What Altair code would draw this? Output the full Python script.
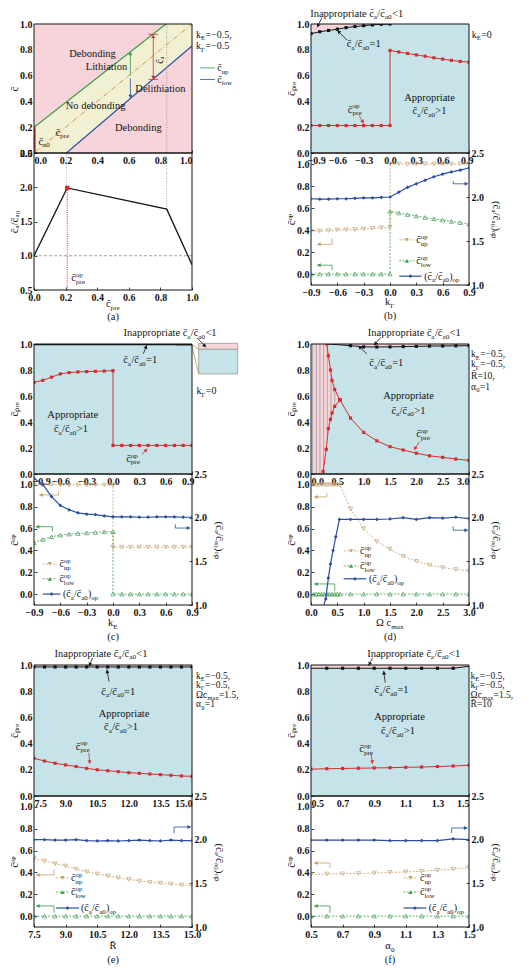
import math
import altair as alt
import pandas as pd

FONT = "Liberation Serif"
RED = "#D22E2E"; BLK = "#141414"; TAN = "#C4A06A"; GRN = "#3D9A4E"; BLU = "#2B4EA0"
BGB = "#C6E3EA"; PNK = "#F6D4D9"; YEL = "#F2F0D3"; GRY = "#8C8C8C"; ORG = "#D8924A"
W = 158

# ---------------- data ----------------
# (a)
a_up_x = [0.0, 0.835]; a_up_y = [0.2, 1.0]
a_low_x = [0.205, 1.0]; a_low_y = [0.0, 0.83]
a_diag_x = [0.0, 1.0]; a_diag_y = [0.0, 1.0]
a_band_x = [0.0, 0.205, 0.835, 1.0]
a_band_hi = [0.2, 0.396, 1.0, 1.0]
a_band_lo = [0.0, 0.0, 0.658, 0.83]
a_ratio_x = [0.0, 0.21, 0.84, 1.0]
a_ratio_y = [1.0, 1.99, 1.68, 0.87]
a_opt_x = [0.21]; a_opt_y = [1.99]

# (b), (c): k values
k_left = [-0.9, -0.8, -0.7, -0.6, -0.5, -0.4, -0.3, -0.2, -0.1, 0.0]
k_right = [0.0, 0.1, 0.2, 0.3, 0.4, 0.5, 0.6, 0.7, 0.8, 0.9]
k_all = k_left + k_right[1:]

b_black_y = [0.925, 0.94, 0.95, 0.96, 0.972, 0.98, 0.987, 0.993, 0.998, 1.0]
b_red_y = [0.213] * 10 + [0.795, 0.783, 0.772, 0.76, 0.75, 0.738, 0.728, 0.718, 0.71, 0.705]
b_up_y = [0.39, 0.39, 0.395, 0.40, 0.402, 0.405, 0.41, 0.415, 0.42, 0.425] + [1.0] * 10
b_low_y = [0.0] * 10 + [0.57, 0.555, 0.54, 0.527, 0.514, 0.502, 0.49, 0.478, 0.467, 0.455]
b_ratio_y = [1.98, 1.975, 1.975, 1.98, 1.98, 1.985, 1.99, 1.99, 1.995, 2.0,
             2.055, 2.11, 2.15, 2.19, 2.23, 2.26, 2.285, 2.305, 2.33]

c_black_x = [-0.9, 0.9]; c_black_y = [0.996, 0.996]
c_red_y = [0.705, 0.72, 0.745, 0.77, 0.78, 0.785, 0.788, 0.79, 0.792, 0.795] + [0.22] * 10
c_up_y = [1.0] * 10 + [0.43] * 10
c_low_y = [0.47, 0.50, 0.525, 0.54, 0.55, 0.555, 0.56, 0.565, 0.57, 0.57] + [0.0] * 10
c_ratio_y = [2.45, 2.38, 2.24, 2.14, 2.09, 2.055, 2.04, 2.035, 2.02, 2.01,
             2.01, 2.01, 2.005, 2.005, 2.01, 2.01, 2.01, 2.005, 2.005]

# (d)
d_red_up_x = [0.30, 0.33, 0.37, 0.40, 0.45, 0.55]
d_red_up_y = [1.0, 0.91, 0.80, 0.72, 0.65, 0.57]
d_red_low_x = [0.23, 0.29, 0.33, 0.37, 0.40, 0.45, 0.55]
d_red_low_y = [0.02, 0.19, 0.35, 0.42, 0.47, 0.52, 0.57]
d_red_tail_x = [0.55, 0.75, 1.0, 1.25, 1.5, 1.75, 2.0, 2.25, 2.5, 2.75, 3.0]
d_red_tail_y = [0.57, 0.43, 0.32, 0.255, 0.21, 0.185, 0.16, 0.14, 0.128, 0.115, 0.105]
d_black_x = [0.3, 0.5, 0.75, 1.0, 1.25, 1.5, 1.75, 2.0, 2.25, 2.5, 2.75, 3.0]
d_black_y = [1.0, 0.995, 0.987, 0.978, 0.977, 0.978, 0.98, 0.982, 0.984, 0.985, 0.986, 0.987]
d_hatch_x = [0.03, 0.1, 0.17, 0.24, 0.31, 0.38, 0.45, 0.52]
d_x = [0.05, 0.1, 0.15, 0.2, 0.25, 0.3, 0.35, 0.4, 0.45, 0.5, 0.55,
       0.75, 1.0, 1.25, 1.5, 1.75, 2.0, 2.25, 2.5, 2.75, 3.0]
d_up_y = [1.0] * 11 + [0.78, 0.60, 0.48, 0.41, 0.345, 0.30, 0.265, 0.243, 0.225, 0.21]
d_low_y = [0.0] * 21
d_ratio_x = [0.20, 0.28, 0.33, 0.37, 0.42, 0.47, 0.54, 0.75, 1.0, 1.25, 1.5, 1.75,
             2.0, 2.25, 2.5, 2.75, 3.0]
d_ratio_y = [0.92, 1.07, 1.31, 1.47, 1.625, 1.78, 1.98, 1.98, 1.98, 1.98, 1.985, 2.0,
             1.98, 2.0, 1.995, 2.005, 1.99]

# (e)
e_x = [7.5, 8.0, 8.5, 9.0, 9.5, 10.0, 10.5, 11.0, 11.5, 12.0, 12.5, 13.0, 13.5, 14.0, 14.5, 15.0]
e_red = [0.288, 0.267, 0.25, 0.237, 0.225, 0.211, 0.2, 0.193, 0.186, 0.178, 0.173, 0.168,
         0.163, 0.158, 0.153, 0.15]
e_black = [0.985] * 16
e_up = [0.53, 0.505, 0.48, 0.458, 0.43, 0.406, 0.385, 0.367, 0.35, 0.336, 0.322, 0.31,
        0.302, 0.294, 0.285, 0.28]
e_low = [0.0] * 16
e_ratio = [2.0, 2.0, 1.995, 1.995, 2.0, 1.99, 1.985, 1.99, 1.985, 1.99, 1.995, 1.99,
           1.985, 1.995, 1.99, 1.99]

# (f)
f_x = [0.5, 0.6, 0.7, 0.8, 0.9, 1.0, 1.1, 1.2, 1.3, 1.4, 1.5]
f_red = [0.205, 0.208, 0.21, 0.212, 0.214, 0.216, 0.219, 0.221, 0.225, 0.229, 0.235]
f_black = [0.975] * 10 + [0.99]
f_up = [0.38, 0.385, 0.388, 0.39, 0.395, 0.40, 0.405, 0.41, 0.42, 0.43, 0.445]
f_low = [0.0] * 11
f_ratio = [1.995, 1.995, 1.995, 1.995, 1.995, 1.99, 1.99, 1.99, 1.99, 2.01, 2.0]

# tick values
t01 = [0.0, 0.2, 0.4, 0.6, 0.8, 1.0]
t_k = [-0.9, -0.6, -0.3, 0.0, 0.3, 0.6, 0.9]
t_om = [0.0, 0.5, 1.0, 1.5, 2.0, 2.5, 3.0]
t_R = [7.5, 9.0, 10.5, 12.0, 13.5, 15.0]
t_al = [0.5, 0.7, 0.9, 1.1, 1.3, 1.5]
t_r = [1.0, 1.5, 2.0, 2.5]
t_a = [0.5, 1.0, 1.5, 2.0, 2.5]

# ---------------- helpers ----------------
CW = {c: 0.5 for c in "0123456789"}
CW.update({"a": 0.44, "b": 0.5, "c": 0.44, "d": 0.5, "e": 0.44, "f": 0.33, "g": 0.5, "h": 0.5,
           "i": 0.28, "j": 0.28, "k": 0.5, "l": 0.28, "m": 0.78, "n": 0.5, "o": 0.5, "p": 0.5,
           "q": 0.5, "r": 0.33, "s": 0.39, "t": 0.28, "u": 0.5, "v": 0.5, "w": 0.72, "x": 0.5,
           "y": 0.5, "z": 0.44, "A": 0.72, "I": 0.33, "R": 0.67, "E": 0.61, "D": 0.72, "N": 0.72,
           "\u0393": 0.6, "\u03a9": 0.77, "\u03b1": 0.55, "=": 0.56, "<": 0.56, ">": 0.56,
           "\u2212": 0.56, ",": 0.25, ".": 0.25, "/": 0.28, "(": 0.33, ")": 0.33, " ": 0.25,
           "\u0304": 0.0})


def tw(s, fs):
    return sum(CW.get(c, 0.5) for c in s) * fs


def fr_(xd, yd, h, yr=None):
    return {"xd": xd, "yd": yd, "h": h, "w": W, "yr": yr}


def pdx(fr, px):
    return px * (fr["xd"][1] - fr["xd"][0]) / fr["w"]


def pdy(fr, px):
    return -px * (fr["yd"][1] - fr["yd"][0]) / fr["h"]


def topx(fr, x, y):
    return ((x - fr["xd"][0]) / (fr["xd"][1] - fr["xd"][0]) * fr["w"],
            (fr["yd"][1] - y) / (fr["yd"][1] - fr["yd"][0]) * fr["h"])


_seq = [0]


def ann():
    return {"text": [], "seg": [], "head": []}


def rich(A, fr, x, y, parts, fs=10.5, align="center", color=BLK, oy=0.0):
    sfs = fs * 0.68
    ws = []
    for k, t in parts:
        if k == "n":
            ws.append(tw(t, fs))
        elif k in ("b", "p"):
            ws.append(tw(t, sfs) + 0.4)
        else:
            ws.append(max(tw(t[0], sfs), tw(t[1], sfs)) + 0.4)
    tot = sum(ws)
    cur = {"center": -tot / 2, "left": 0.0, "right": -tot}[align]
    base = 0.33 * fs + oy

    def add(t, s, ox, o):
        A["text"].append({"x": x + pdx(fr, ox), "y": y + pdy(fr, o), "t": t, "fs": s, "c": color})

    for (k, t), w in zip(parts, ws):
        if k == "n":
            add(t, fs, cur, base)
        elif k == "b":
            add(t, sfs, cur, base + 0.25 * fs)
        elif k == "p":
            add(t, sfs, cur, base - 0.4 * fs)
        else:
            add(t[0], sfs, cur, base - 0.4 * fs)
            add(t[1], sfs, cur, base + 0.25 * fs)
        cur += w


def path(A, fr, pts, color=BLK, head=True):
    _seq[0] += 1
    i = _seq[0]
    for o, (x, y) in enumerate(pts):
        A["seg"].append({"x": x, "y": y, "id": i, "o": o, "c": color})
    if head:
        (x1, y1), (x2, y2) = pts[-2], pts[-1]
        X1, Y1 = topx(fr, x1, y1)
        X2, Y2 = topx(fr, x2, y2)
        vx, vy = X2 - X1, Y2 - Y1
        L = math.hypot(vx, vy) or 1.0
        ux, uy = vx / L, vy / L
        ang = math.degrees(math.atan2(vx, -vy)) % 360
        A["head"].append({"x": x2 - pdx(fr, 1.8 * ux), "y": y2 - pdy(fr, 1.8 * uy), "a": ang, "c": color})


def XY(fr, xax, yax, right=False):
    yd = fr["yr"] if right else fr["yd"]
    return {"x": alt.X("x:Q", scale=alt.Scale(domain=list(fr["xd"]), nice=False, zero=False), axis=xax),
            "y": alt.Y("y:Q", scale=alt.Scale(domain=list(yd), nice=False, zero=False), axis=yax)}


def ax_x(vals, flush, offset=0):
    return alt.Axis(values=vals, format=".1f", title="", labelFlush=flush, labelFlushOffset=offset,
                    labelOverlap=False)


def ax_y(vals, title, orient="left"):
    if orient == "right":
        return alt.Axis(values=vals, format=".1f", title=title, orient=orient, labelOverlap=False,
                        titlePadding=7)
    return alt.Axis(values=vals, format=".1f", title=title, orient=orient, labelOverlap=False)


def line(fr, xa, ya, xs, ys, color, lw=1.0, dash=None, clip=True, right=False, ids=None):
    df = pd.DataFrame({"x": xs, "y": ys, "o": list(range(len(xs))),
                       "id": ids if ids is not None else [0] * len(xs)})
    kw = dict(color=color, strokeWidth=lw, clip=clip)
    if dash:
        kw["strokeDash"] = dash
    return alt.Chart(df).mark_line(**kw).encode(**XY(fr, xa, ya, right), order="o:Q", detail="id:N")


def pts(fr, xa, ya, xs, ys, color, shape, size, filled=True, clip=True, right=False):
    df = pd.DataFrame({"x": xs, "y": ys})
    kw = dict(color=color, shape=shape, size=size, filled=filled, clip=clip, opacity=1)
    if not filled:
        kw["strokeWidth"] = 0.7
    return alt.Chart(df).mark_point(**kw).encode(**XY(fr, xa, ya, right))


def rect(fr, xa, ya, x, x2, y, y2, color, clip=True, stroke=None):
    df = pd.DataFrame({"x": [x], "x2": [x2], "y": [y], "y2": [y2]})
    kw = dict(color=color, clip=clip)
    if stroke:
        kw.update(stroke=stroke, strokeWidth=0.8)
    return alt.Chart(df).mark_rect(**kw).encode(**XY(fr, xa, ya), x2="x2:Q", y2="y2:Q")


def area(fr, xa, ya, xs, ys, y2s, color):
    df = pd.DataFrame({"x": xs, "y": ys, "y2": y2s})
    return alt.Chart(df).mark_area(color=color, opacity=1, clip=True).encode(**XY(fr, xa, ya), y2="y2:Q")


def frame(fr, xa, ya):
    df = pd.DataFrame({"x": [fr["xd"][0]], "x2": [fr["xd"][1]], "y": [fr["yd"][0]], "y2": [fr["yd"][1]]})
    return alt.Chart(df).mark_rect(fillOpacity=0, stroke=BLK, strokeWidth=1, clip=False).encode(
        **XY(fr, xa, ya), x2="x2:Q", y2="y2:Q")


def ann_layers(fr, A, xa, ya):
    L = []
    if A["seg"]:
        L.append(alt.Chart(pd.DataFrame(A["seg"])).mark_line(clip=False, strokeWidth=0.8).encode(
            **XY(fr, xa, ya), detail="id:N", order="o:Q", color=alt.Color("c:N", scale=None)))
    if A["head"]:
        L.append(alt.Chart(pd.DataFrame(A["head"])).mark_point(
            clip=False, filled=True, shape="triangle-up", size=16, opacity=1).encode(
            **XY(fr, xa, ya), angle=alt.Angle("a:Q", scale=None), color=alt.Color("c:N", scale=None)))
    if A["text"]:
        L.append(alt.Chart(pd.DataFrame(A["text"])).mark_text(
            clip=False, align="left", baseline="alphabetic", font=FONT).encode(
            **XY(fr, xa, ya), text="t:N", size=alt.Size("fs:Q", scale=None),
            color=alt.Color("c:N", scale=None)))
    return L


CB = "c\u0304"
RATIO = [("n", CB), ("b", "a"), ("n", "/" + CB), ("b", "a0")]
CPRE_OP = [("n", CB), ("pb", ("op", "pre"))]
CUP = [("n", CB), ("pb", ("op", "up"))]
CLOW = [("n", CB), ("pb", ("op", "low"))]
CRAT_OP = [("n", "(" + CB), ("b", "a"), ("n", "/" + CB), ("b", "a0"), ("n", ")"), ("b", "op")]
INAP = [("n", "Inappropriate " + CB), ("b", "a"), ("n", "/" + CB), ("b", "a0"), ("n", "<1")]


def KE(v):
    return [("n", "k"), ("b", "E"), ("n", "=" + v)]


def KG(v):
    return [("n", "k"), ("b", "\u0393"), ("n", "=" + v)]


OMEGA = [("n", "\u03a9c"), ("b", "max"), ("n", "=1.5,")]
ALPHA = [("n", "\u03b1"), ("b", "0"), ("n", "=1")]

Y_TOP = "c\u0304\u209a\u1d63\u2091"
Y_OP = "c\u0304\u1d52\u1d56"
Y_R = "(c\u0304\u2090/c\u0304\u2090\u2080)\u2092\u209a"


def common_top(fr, xa, ya, A, texts_appr, pos_eq, arr_eq, pos_inap, arr_inap, pos_op, arr_op):
    rich(A, fr, pos_inap[0], pos_inap[1], INAP)
    path(A, fr, arr_inap)
    rich(A, fr, pos_eq[0], pos_eq[1], RATIO + [("n", "=1")])
    path(A, fr, arr_eq)
    rich(A, fr, texts_appr[0][0], texts_appr[0][1], [("n", "Appropriate")])
    rich(A, fr, texts_appr[1][0], texts_appr[1][1], RATIO + [("n", ">1")])
    rich(A, fr, pos_op[0], pos_op[1], CPRE_OP)
    path(A, fr, arr_op, RED)


def right_notes(A, fr, x, ys, items, fs=9.5):
    for y, it in zip(ys, items):
        rich(A, fr, x, y, it, fs=fs, align="left")


def bottom_panel(fr, xvals, ux, uy, lx, ly, rx, ry, leg, arrows, xtitle, cap, oy):
    xa = ax_x(xvals, False)
    yl = ax_y(t01, Y_OP)
    yr = ax_y(t_r, Y_R, "right")
    A = ann()
    left = [line(fr, xa, yl, ux, uy, TAN, 0.8, dash=[2, 1.5]),
            pts(fr, xa, yl, ux, uy, TAN, "triangle-down", 18, filled=False),
            line(fr, xa, yl, lx, ly, GRN, 0.8, dash=[2, 1.5]),
            pts(fr, xa, yl, lx, ly, GRN, "triangle-up", 18, filled=False)]
    x0, x1, xt, ys, bx1, bxt = leg
    xm = (x0 + x1) / 2
    left += [line(fr, xa, yl, [x0, x1], [ys[0]] * 2, TAN, 0.8, dash=[2, 1.5], clip=False),
             pts(fr, xa, yl, [xm], [ys[0]], TAN, "triangle-down", 18, clip=False),
             line(fr, xa, yl, [x0, x1], [ys[1]] * 2, GRN, 0.8, dash=[2, 1.5], clip=False),
             pts(fr, xa, yl, [xm], [ys[1]], GRN, "triangle-up", 18, clip=False),
             line(fr, xa, yl, [x0, bx1], [ys[2]] * 2, BLU, 1.2, clip=False),
             pts(fr, xa, yl, [(x0 + bx1) / 2], [ys[2]], BLU, "diamond", 14, clip=False)]
    rich(A, fr, xt, ys[0], CUP, fs=10, align="left")
    rich(A, fr, xt, ys[1], CLOW, fs=10, align="left")
    rich(A, fr, bxt, ys[2], CRAT_OP, fs=10, align="left")
    for pth, col in arrows:
        path(A, fr, pth, col)
    xc = (fr["xd"][0] + fr["xd"][1]) / 2
    rich(A, fr, xc, fr["yd"][0], xtitle, fs=10.5, oy=oy[0])
    rich(A, fr, xc, fr["yd"][0], [("n", cap)], fs=10.5, oy=oy[1])
    left += ann_layers(fr, A, xa, yl)
    left.append(frame(fr, xa, yl))
    right = [line(fr, xa, yr, rx, ry, BLU, 1.2, right=True),
             pts(fr, xa, yr, rx, ry, BLU, "diamond", 14, right=True)]
    return alt.layer(alt.layer(*left), alt.layer(*right)).resolve_scale(y="independent").properties(
        width=W, height=fr["h"])


# ---------------- panel (a) ----------------
F = fr_([0, 1], [0, 1], 129)
xa = ax_x(t01, True); ya = ax_y(t01, "c\u0304")
A = ann()
path(A, F, [(0.755, 0.745), (0.755, 0.918)], RED)
path(A, F, [(0.755, 0.745), (0.755, 0.572)], RED)
path(A, F, [(0.725, 0.92), (0.785, 0.92)], RED, head=False)
path(A, F, [(0.725, 0.57), (0.785, 0.57)], RED, head=False)
path(A, F, [(0.61, 0.6), (0.61, 0.785)], GRN)
path(A, F, [(0.61, 0.58), (0.61, 0.425)], BLU)
rich(A, F, 0.37, 0.77, [("n", "Debonding")])
rich(A, F, 0.455, 0.668, [("n", "Lithiation")])
rich(A, F, 0.80, 0.50, [("n", "Delithiation")])
rich(A, F, 0.39, 0.37, [("n", "No debonding")])
rich(A, F, 0.66, 0.20, [("n", "Debonding")])
rich(A, F, 0.18, 0.16, [("n", CB), ("b", "pre")])
rich(A, F, 0.065, 0.09, [("n", CB), ("b", "a0")])
right_notes(A, F, 1.025, [0.92, 0.83], [KE("\u22120.5,"), KG("\u22120.5")], fs=10)
path(A, F, [(1.05, 0.66), (1.145, 0.66)], GRN, head=False)
path(A, F, [(1.05, 0.57), (1.145, 0.57)], BLU, head=False)
rich(A, F, 1.16, 0.66, [("n", CB), ("b", "up")], fs=10, align="left")
rich(A, F, 1.16, 0.57, [("n", CB), ("b", "low")], fs=10, align="left")
rot = alt.Chart(pd.DataFrame({"x": [0.80], "y": [0.72], "t": ["c\u0304\u2090"]})).mark_text(
    angle=270, font=FONT, fontSize=10, color=BLK, clip=False).encode(**XY(F, xa, ya), text="t:N")
a_top = alt.layer(
    rect(F, xa, ya, 0, 1, 0, 1, PNK),
    area(F, xa, ya, a_band_x, a_band_hi, a_band_lo, YEL),
    line(F, xa, ya, a_diag_x, a_diag_y, ORG, 1.0, dash=[5, 2, 1, 2]),
    line(F, xa, ya, a_up_x, a_up_y, GRN, 1.2),
    line(F, xa, ya, a_low_x, a_low_y, BLU, 1.2),
    line(F, xa, ya, [0.84, 0.84], [0.0, 1.0], GRY, 0.8, dash=[1, 1.5]),
    line(F, xa, ya, [0.004, 0.004], [0.0, 0.2], RED, 2.0),
    *ann_layers(F, A, xa, ya), rot, frame(F, xa, ya)
).properties(width=W, height=F["h"])

F = fr_([0, 1], [0.5, 2.5], 137)
xa = ax_x(t01, False); ya = ax_y(t_a, "c\u0304\u2090/c\u0304\u2090\u2080")
A = ann()
rich(A, F, 0.235, 0.68, CPRE_OP, align="left")
rich(A, F, 0.5, 0.5, [("n", CB), ("b", "pre")], oy=14)
rich(A, F, 0.5, 0.5, [("n", "(a)")], oy=27)
a_bot = alt.layer(
    line(F, xa, ya, [0.0, 1.0], [1.0, 1.0], "#777777", 0.7, dash=[3, 2]),
    line(F, xa, ya, [0.205, 0.205], [1.99, 2.5], "#8899AA", 0.8, dash=[1, 1.5]),
    line(F, xa, ya, [0.84, 0.84], [1.68, 2.5], GRY, 0.8, dash=[1, 1.5]),
    line(F, xa, ya, [0.21, 0.21], [0.5, 1.99], RED, 1.0, dash=[1, 1.2]),
    line(F, xa, ya, a_ratio_x, a_ratio_y, BLK, 1.3),
    pts(F, xa, ya, a_opt_x, a_opt_y, RED, "square", 20),
    *ann_layers(F, A, xa, ya), frame(F, xa, ya)
).properties(width=W, height=F["h"])

# ---------------- panel (b) ----------------
F = fr_([-0.9, 0.9], [0, 1], 129)
xa = ax_x(t_k, True, 4); ya = ax_y(t01, Y_TOP)
A = ann()
common_top(F, xa, ya, A, [(0.45, 0.43), (0.45, 0.33)], (-0.3, 0.845),
           [(-0.49, 0.875), (-0.6, 0.95)], (-0.38, 1.085), [(-0.775, 1.05), (-0.83, 0.975)],
           (-0.40, 0.34), [(-0.35, 0.29), (-0.3, 0.23)])
right_notes(A, F, 0.93, [0.92], [KE("0")], fs=10)
b_top = alt.layer(
    rect(F, xa, ya, -0.9, 0.9, 0, 1, BGB),
    area(F, xa, ya, k_left, b_black_y, [1.0] * 10, PNK),
    line(F, xa, ya, k_left, b_black_y, BLK, 1.0),
    pts(F, xa, ya, k_left, b_black_y, BLK, "square", 10),
    line(F, xa, ya, k_left + k_right, b_red_y, RED, 1.0),
    pts(F, xa, ya, k_left + k_right, b_red_y, RED, "square", 10),
    *ann_layers(F, A, xa, ya), frame(F, xa, ya)
).properties(width=W, height=F["h"])

F = fr_([-0.9, 0.9], [-0.1, 1.1], 132, yr=[1.0, 2.5])
b_bot = bottom_panel(
    F, t_k, k_left + k_right, b_up_y, k_left + k_right, b_low_y, k_all, b_ratio_y,
    (0.105, 0.28, 0.30, [0.31, 0.12, -0.02], 0.36, 0.39),
    [([(-0.66, 0.325), (-0.66, 0.27), (-0.83, 0.27)], TAN),
     ([(-0.66, 0.034), (-0.66, 0.08), (-0.83, 0.08)], GRN),
     ([(0.72, 0.845), (0.72, 0.82), (0.89, 0.82)], BLU)],
    [("n", "k"), ("b", "\u0393")], "(b)", (17, 31))

# ---------------- panel (c) ----------------
F = fr_([-0.9, 0.9], [0, 1], 130)
xa = ax_x(t_k, True, 2); ya = ax_y(t01, Y_TOP)
A = ann()
common_top(F, xa, ya, A, [(-0.46, 0.46), (-0.48, 0.35)], (0.31, 0.877),
           [(0.345, 0.925), (0.385, 0.99)], (0.65, 1.085), [(0.96, 1.045), (1.06, 0.975)],
           (0.23, 0.12), [(0.33, 0.15), (0.39, 0.195)])
right_notes(A, F, 0.95, [0.64], [KG("0")], fs=10)
path(A, F, [(0.9, 0.995), (0.976, 0.959)], "#A8A040", head=False)
path(A, F, [(0.9, 0.985), (0.976, 0.77)], "#A8A040", head=False)
c_top = alt.layer(
    rect(F, xa, ya, -0.9, 0.9, 0, 1, BGB),
    rect(F, xa, ya, 0.72, 0.9, 0.985, 1.0, "#9A9A9A"),
    line(F, xa, ya, c_black_x, c_black_y, BLK, 1.5),
    line(F, xa, ya, k_left + k_right, c_red_y, RED, 1.0),
    pts(F, xa, ya, k_left + k_right, c_red_y, RED, "square", 10),
    rect(F, xa, ya, 0.976, 1.42, 0.959, 1.005, PNK, clip=False, stroke="#999999"),
    rect(F, xa, ya, 0.976, 1.42, 0.77, 0.959, BGB, clip=False, stroke="#999999"),
    *ann_layers(F, A, xa, ya), frame(F, xa, ya)
).properties(width=W, height=F["h"])

F = fr_([-0.9, 0.9], [-0.1, 1.1], 131, yr=[1.0, 2.5])
c_bot = bottom_panel(
    F, t_k, k_left + k_right, c_up_y, k_left + k_right, c_low_y, k_all, c_ratio_y,
    (-0.80, -0.64, -0.61, [0.276, 0.14, 0.0], -0.60, -0.57),
    [([(-0.62, 0.944), (-0.62, 0.908), (-0.84, 0.908)], TAN),
     ([(-0.69, 0.572), (-0.69, 0.617), (-0.88, 0.617)], GRN),
     ([(0.71, 0.64), (0.71, 0.605), (0.88, 0.605)], BLU)],
    [("n", "k"), ("b", "E")], "(c)", (18, 32))

# ---------------- panel (d) ----------------
F = fr_([0, 3], [0, 1], 130)
xa = ax_x(t_om, True); ya = ax_y(t01, Y_TOP)
A = ann()
common_top(F, xa, ya, A, [(1.85, 0.6), (1.85, 0.49)], (1.43, 0.855),
           [(1.06, 0.925), (0.9, 0.985)], (1.96, 1.085), [(1.32, 1.05), (1.2, 0.99)],
           (2.13, 0.31), [(2.06, 0.25), (1.96, 0.185)])
right_notes(A, F, 3.04, [0.923, 0.846, 0.754, 0.67],
            [KE("\u22120.5,"), KG("\u22120.5,"), [("n", "R\u0304=10,")], ALPHA])
hatch = pd.DataFrame({"x": d_hatch_x, "y": [0.0] * len(d_hatch_x), "y2": [1.0] * len(d_hatch_x)})
d_ids = [0] * 6 + [1] * 7 + [2] * 11
d_top = alt.layer(
    rect(F, xa, ya, 0, 0.55, 0, 1, PNK),
    alt.Chart(hatch).mark_rule(color="#9A9A9A", strokeWidth=0.8).encode(**XY(F, xa, ya), y2="y2:Q"),
    rect(F, xa, ya, 0.55, 3.0, 0, 1, BGB),
    area(F, xa, ya, d_red_low_x, d_red_low_y, [0.0] * 7, BGB),
    area(F, xa, ya, d_red_up_x, d_red_up_y, [1.0] * 6, BGB),
    area(F, xa, ya, d_black_x, d_black_y, [1.0] * 12, PNK),
    line(F, xa, ya, d_black_x, d_black_y, BLK, 1.0),
    pts(F, xa, ya, d_black_x[2:], d_black_y[2:], BLK, "square", 10),
    line(F, xa, ya, d_red_up_x + d_red_low_x + d_red_tail_x, d_red_up_y + d_red_low_y + d_red_tail_y,
         RED, 1.0, ids=d_ids),
    pts(F, xa, ya, d_red_up_x + d_red_low_x + d_red_tail_x, d_red_up_y + d_red_low_y + d_red_tail_y,
        RED, "square", 10),
    *ann_layers(F, A, xa, ya), frame(F, xa, ya)
).properties(width=W, height=F["h"])

F = fr_([0, 3], [-0.1, 1.1], 131, yr=[1.0, 2.5])
d_bot = bottom_panel(
    F, t_om, d_x, d_up_y, d_x, d_low_y, d_ratio_x, d_ratio_y,
    (0.62, 0.9, 0.93, [0.395, 0.258, 0.14], 1.05, 1.1),
    [([(0.30, 0.93), (0.30, 0.89), (0.06, 0.89)], TAN),
     ([(0.45, 0.03), (0.45, 0.093), (0.06, 0.093)], GRN),
     ([(2.7, 0.62), (2.7, 0.585), (2.98, 0.585)], BLU)],
    [("n", "\u03a9 c"), ("b", "max")], "(d)", (18, 32))

# ---------------- panel (e) ----------------
F = fr_([7.5, 15], [0, 1], 131)
xa = ax_x(t_R, True); ya = ax_y(t01, Y_TOP)
A = ann()
common_top(F, xa, ya, A, [(11.77, 0.626), (11.63, 0.527)], (11.5, 0.80),
           [(11.06, 0.875), (10.96, 0.965)], (10.68, 1.09), [(10.28, 1.055), (10.12, 0.99)],
           (9.82, 0.38), [(10.1, 0.33), (10.15, 0.245)])
right_notes(A, F, 15.19, [0.92, 0.85, 0.775, 0.70],
            [KE("\u22120.5,"), KG("\u22120.5,"), OMEGA, ALPHA])
e_top = alt.layer(
    rect(F, xa, ya, 7.5, 15, 0, 1, BGB),
    area(F, xa, ya, e_x, e_black, [1.0] * 16, PNK),
    line(F, xa, ya, e_x, e_black, BLK, 1.0),
    pts(F, xa, ya, e_x, e_black, BLK, "square", 10),
    line(F, xa, ya, e_x, e_red, RED, 1.0),
    pts(F, xa, ya, e_x, e_red, RED, "square", 10),
    *ann_layers(F, A, xa, ya), frame(F, xa, ya)
).properties(width=W, height=F["h"])

F = fr_([7.5, 15], [-0.1, 1.1], 131, yr=[1.0, 2.5])
e_bot = bottom_panel(
    F, t_R, e_x, e_up, e_x, e_low, e_x, e_ratio,
    (8.54, 9.16, 9.26, [0.35, 0.22, 0.074], 9.64, 9.73),
    [([(8.45, 0.422), (8.45, 0.377), (7.6, 0.377)], TAN),
     ([(8.45, 0.031), (8.45, 0.093), (7.6, 0.093)], GRN),
     ([(14.15, 0.76), (14.15, 0.816), (14.95, 0.816)], BLU)],
    [("n", "R\u0304")], "(e)", (19, 33))

# ---------------- panel (f) ----------------
F = fr_([0.5, 1.5], [0, 1], 131)
xa = ax_x(t_al, True); ya = ax_y(t01, Y_TOP)
A = ann()
common_top(F, xa, ya, A, [(1.06, 0.61), (1.05, 0.50)], (1.01, 0.81),
           [(0.97, 0.865), (0.96, 0.955)], (1.15, 1.09), [(0.89, 1.055), (0.865, 0.995)],
           (0.85, 0.36), [(0.88, 0.32), (0.89, 0.245)])
right_notes(A, F, 1.51, [0.92, 0.85, 0.775, 0.70],
            [KE("\u22120.5,"), KG("\u22120.5,"), OMEGA, [("n", "R\u0304=10")]])
f_top = alt.layer(
    rect(F, xa, ya, 0.5, 1.5, 0, 1, BGB),
    area(F, xa, ya, f_x, f_black, [1.0] * 11, PNK),
    line(F, xa, ya, f_x, f_black, BLK, 1.0),
    pts(F, xa, ya, f_x[1:10], f_black[1:10], BLK, "square", 10),
    line(F, xa, ya, f_x, f_red, RED, 1.0),
    pts(F, xa, ya, f_x, f_red, RED, "square", 10),
    *ann_layers(F, A, xa, ya), frame(F, xa, ya)
).properties(width=W, height=F["h"])

F = fr_([0.5, 1.5], [-0.1, 1.1], 131, yr=[1.0, 2.5])
f_bot = bottom_panel(
    F, t_al, f_x, f_up, f_x, f_low, f_x, f_ratio,
    (1.085, 1.175, 1.19, [0.35, 0.22, 0.074], 1.23, 1.245),
    [([(0.62, 0.44), (0.62, 0.486), (0.52, 0.486)], TAN),
     ([(0.62, 0.03), (0.62, 0.093), (0.52, 0.093)], GRN),
     ([(1.39, 0.76), (1.39, 0.807), (1.49, 0.807)], BLU)],
    [("n", "\u03b1"), ("b", "0")], "(f)", (19, 33))


def spacer(h):
    return alt.Chart(pd.DataFrame({"x": [0], "y": [0]})).mark_point(opacity=0).encode(
        x=alt.X("x:Q", axis=None), y=alt.Y("y:Q", axis=None)).properties(
        width=W, height=h, view=alt.ViewBackground(strokeOpacity=0))


cells = [a_top, b_top, a_bot, b_bot, spacer(54), spacer(54), c_top, d_top, c_bot, d_bot,
         spacer(60), spacer(60), e_top, f_top, e_bot, f_bot]

chart = alt.concat(
    *cells, columns=2, spacing={"row": 0, "column": 119}, bounds="flush", align="each"
).properties(
    padding={"left": 0, "top": 0, "right": 0, "bottom": 0}
).configure_view(strokeOpacity=0).configure_axis(
    labelFont=FONT, labelFontSize=10, labelFontWeight="bold", labelColor=BLK,
    tickColor=BLK, tickWidth=0.8, tickSize=alt.ExprRef(expr="-3"), labelPadding=5,
    titleFont=FONT, titleFontSize=11, titleFontWeight="normal", titleColor=BLK,
    titlePadding=0, domain=False, grid=False, zindex=1
)

chart.save("out.html", embed_options={"renderer": "svg", "actions": False})
